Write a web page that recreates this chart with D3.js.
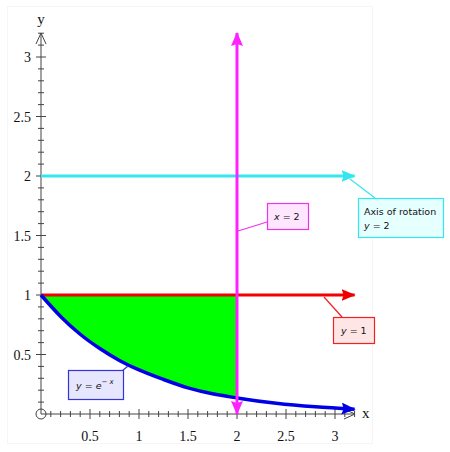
<!DOCTYPE html>
<html>
<head>
<meta charset="utf-8">
<script src="https://cdn.jsdelivr.net/npm/d3@7"></script>
<style>
  html, body { margin: 0; padding: 0; background: #fff; }
</style>
</head>
<body>
<div id="chart"></div>
<script>
// values
const xTicks = [0.5, 1, 1.5, 2, 2.5, 3];
const yTicks = [0.5, 1, 1.5, 2, 2.5, 3];
const curveX = [0, 0.2, 0.4, 0.6, 0.8, 1, 1.25, 1.5, 1.75, 2, 2.4, 2.8, 3.2];
const curveY = [1, 0.82, 0.67, 0.55, 0.45, 0.37, 0.29, 0.22, 0.17, 0.135, 0.09, 0.06, 0.04];
const axisLineY = 2;      // axis of rotation
const upperLineY = 1;     // y = 1
const boundX = 2;         // x = 2
const lineEnd = 3.2;

const width = 450, height = 452;
const x = d3.scaleLinear().domain([0, 1]).range([41, 139]);
const y = d3.scaleLinear().domain([0, 1]).range([414, 295]);

const svg = d3.select("#chart").append("svg")
    .attr("width", width)
    .attr("height", height);

// faint frame
svg.append("rect").attr("x", 7.5).attr("y", 6.5).attr("width", 365).attr("height", 437)
    .attr("fill", "none").attr("stroke", "#f5f5f5");

// arrow markers
const defs = svg.append("defs");
function marker(id, color) {
    defs.append("marker")
        .attr("id", id)
        .attr("viewBox", "0 0 14 12")
        .attr("refX", 13).attr("refY", 6)
        .attr("markerWidth", 14).attr("markerHeight", 12)
        .attr("markerUnits", "userSpaceOnUse")
        .attr("orient", "auto-start-reverse")
        .append("path").attr("d", "M0,0 L14,6 L0,12 L2,6 Z").attr("fill", color);
}
marker("arr-red", "#f00000");
marker("arr-cyan", "#33e6f0");
marker("arr-mag", "#ff22ff");
marker("arr-blue", "#0000e6");

const pts = curveX.map((d, i) => [d, curveY[i]]);
const fillPts = pts.filter(d => d[0] <= boundX);

// green region between the curve and y = 1
const area = d3.area()
    .x(d => x(d[0]))
    .y0(y(upperLineY))
    .y1(d => y(d[1]))
    .curve(d3.curveMonotoneX);
svg.append("path").datum(fillPts).attr("d", area).attr("fill", "#00ff00");

// axes
const axisColor = "#444";
const ax = svg.append("g").attr("stroke", axisColor).attr("stroke-width", 1);
ax.append("line").attr("x1", x(0)).attr("y1", y(0)).attr("x2", 355).attr("y2", y(0));
ax.append("line").attr("x1", x(0)).attr("y1", y(0)).attr("x2", x(0)).attr("y2", 33);
ax.append("path").attr("d", `M${x(0) - 5},44 L${x(0)},33 L${x(0) + 5},44`).attr("fill", "none");
ax.append("path").attr("d", `M344,409 L355,${y(0)} L344,419`).attr("fill", "none");

const minorX = d3.range(1, 33).map(i => i / 10);
const minorY = d3.range(1, 33).map(i => i / 10);
ax.selectAll(".tx").data(minorX).join("line")
    .attr("x1", d => x(d)).attr("x2", d => x(d))
    .attr("y1", d => y(0) - (Math.round(d * 10) % 5 === 0 ? 5 : 3))
    .attr("y2", d => y(0) + (Math.round(d * 10) % 5 === 0 ? 5 : 3));
ax.selectAll(".ty").data(minorY).join("line")
    .attr("y1", d => y(d)).attr("y2", d => y(d))
    .attr("x1", d => x(0) - (Math.round(d * 10) % 5 === 0 ? 5 : 3))
    .attr("x2", d => x(0) + (Math.round(d * 10) % 5 === 0 ? 5 : 3));
ax.append("circle").attr("cx", x(0)).attr("cy", y(0)).attr("r", 5).attr("fill", "none");

const serif = "'Liberation Serif', 'Times New Roman', serif";
svg.selectAll(".xl").data(xTicks).join("text")
    .attr("x", d => x(d)).attr("y", 441)
    .attr("text-anchor", "middle")
    .attr("font-family", serif).attr("font-size", 14).attr("fill", "#111")
    .text(d => d);
svg.selectAll(".yl").data(yTicks).join("text")
    .attr("x", 31).attr("y", d => y(d) + 5)
    .attr("text-anchor", "end")
    .attr("font-family", serif).attr("font-size", 14).attr("fill", "#111")
    .text(d => d);
svg.append("text").attr("x", 362).attr("y", 418).attr("font-family", serif)
    .attr("font-size", 15).attr("fill", "#111").text("x");
svg.append("text").attr("x", 41).attr("y", 24).attr("text-anchor", "middle")
    .attr("font-family", serif).attr("font-size", 15).attr("fill", "#111").text("y");

// horizontal lines
svg.append("line")
    .attr("x1", x(0)).attr("y1", y(axisLineY)).attr("x2", x(lineEnd)).attr("y2", y(axisLineY))
    .attr("stroke", "#33e6f0").attr("stroke-width", 3).attr("marker-end", "url(#arr-cyan)");
svg.append("line")
    .attr("x1", x(0)).attr("y1", y(upperLineY)).attr("x2", x(lineEnd)).attr("y2", y(upperLineY))
    .attr("stroke", "#f00000").attr("stroke-width", 3).attr("marker-end", "url(#arr-red)");

// curve
const line = d3.line().x(d => x(d[0])).y(d => y(d[1])).curve(d3.curveMonotoneX);
svg.append("path").datum(pts).attr("d", line)
    .attr("fill", "none").attr("stroke", "#0000e6").attr("stroke-width", 3.5)
    .attr("marker-end", "url(#arr-blue)");

// x = 2
svg.append("line")
    .attr("x1", x(boundX)).attr("y1", y(0)).attr("x2", x(boundX)).attr("y2", 33)
    .attr("stroke", "#ff22ff").attr("stroke-width", 3)
    .attr("marker-start", "url(#arr-mag)").attr("marker-end", "url(#arr-mag)");

// annotation boxes
const sans = "'DejaVu Sans', Verdana, sans-serif";
function callout(box, from, to, stroke, fill, lines) {
    svg.append("line").attr("x1", from[0]).attr("y1", from[1]).attr("x2", to[0]).attr("y2", to[1])
        .attr("stroke", stroke).attr("stroke-width", 1.2);
    svg.append("rect").attr("x", box[0] + 0.5).attr("y", box[1] + 0.5)
        .attr("width", box[2]).attr("height", box[3])
        .attr("fill", fill).attr("stroke", stroke).attr("stroke-width", 1.2);
    lines.forEach(l => {
        const t = svg.append("text").attr("x", l.x).attr("y", l.y)
            .attr("font-family", sans).attr("font-size", 9.5).attr("fill", "#111");
        l.parts.forEach(p => {
            const s = t.append("tspan").text(p.t);
            if (p.it) s.attr("font-style", "italic");
            if (p.sup) s.attr("font-size", 7).attr("dy", -5);
        });
    });
}

callout([267, 203, 41, 26], [238, 231], [267, 222], "#ee33ee", "#ffe6ff",
    [{x: 274, y: 220, parts: [{t: "x", it: true}, {t: " = 2"}]}]);
callout([358, 198, 85, 39], [350, 179], [375, 198], "#33e6f0", "#e6ffff",
    [{x: 364, y: 215, parts: [{t: "Axis of rotation"}]},
     {x: 364, y: 229, parts: [{t: "y", it: true}, {t: " = 2"}]}]);
callout([333, 317, 41, 26], [324, 297], [342, 317], "#ee2222", "#ffe6e6",
    [{x: 341, y: 334, parts: [{t: "y", it: true}, {t: " = 1"}]}]);
callout([68, 370, 55, 29], [128, 366], [122, 371], "#3333dd", "#e6e6ff",
    [{x: 76, y: 389, parts: [{t: "y", it: true}, {t: " = "}, {t: "e", it: true}, {t: "− x", it: true, sup: true}]}]);
</script>
</body>
</html>
